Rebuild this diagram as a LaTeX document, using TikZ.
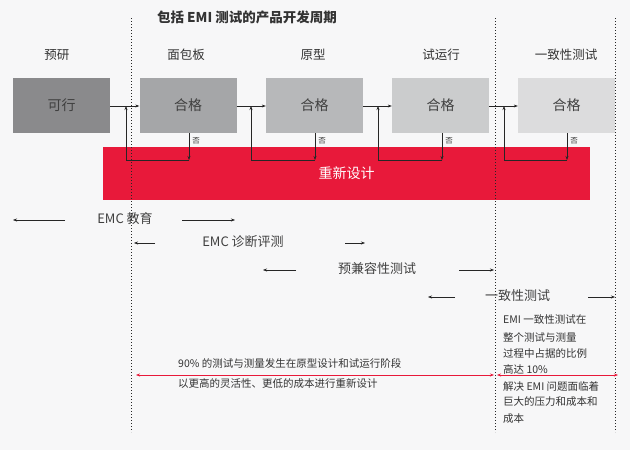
\documentclass[tikz,border=0pt]{standalone}
\usepackage{fontspec}
\setmainfont{Noto Sans CJK SC}
\usetikzlibrary{arrows.meta}
\definecolor{bg}{HTML}{F7F7F8}
\definecolor{redd}{HTML}{E8193A}
\definecolor{g1}{HTML}{8A8A8C}
\definecolor{g2}{HTML}{A5A6A8}
\definecolor{g3}{HTML}{B7B8BA}
\definecolor{g4}{HTML}{CBCCCD}
\definecolor{g5}{HTML}{DCDCDD}
\tikzset{
 stage/.style={minimum width=97pt,minimum height=55pt,inner sep=0,font=\fontsize{14}{16}\selectfont,text=black!75},
 arr/.style={-{Stealth[length=4pt,width=3pt]},black!85,line width=0.5pt},
 lbl/.style={font=\fontsize{13}{15}\selectfont,text=black!75,inner sep=0},
 sm/.style={font=\fontsize{10.5}{12}\selectfont,text=black!80,inner sep=0,anchor=west},
 vd/.style={black!85,line width=1pt,dotted},
 ph/.style={font=\fontsize{12.5}{14}\selectfont,text=black!80},
}
\begin{document}
\begin{tikzpicture}[x=1pt,y=-1pt]
\fill[bg] (0,0) rectangle (630,450);
\useasboundingbox (0,0) rectangle (630,450);
\node[font=\bfseries\fontsize{13.5}{15}\selectfont,text=black!80] (title) at (247,17) {包括 EMI 测试的产品开发周期};
\node[ph] (p0) at (57,55) {预研};
\node[ph] (p1) at (186,55) {面包板};
\node[ph] (p2) at (313,55) {原型};
\node[ph] (p3) at (441,55) {试运行};
\node[ph] (p4) at (566,55) {一致性测试};
\node[fill=redd,minimum width=487pt,minimum height=53pt,text=white,font=\fontsize{14}{16}\selectfont] (re) at (346.5,173.5) {重新设计};
\node[stage,fill=g1] (b0) at (61.5,105.5) {可行};
\node[stage,fill=g2] (b1) at (188,105.5) {合格};
\node[stage,fill=g3] (b2) at (314.5,105.5) {合格};
\node[stage,fill=g4] (b3) at (440.5,105.5) {合格};
\node[stage,fill=g5] (b4) at (566.5,105.5) {合格};
\foreach \a/\b in {b0/b1,b1/b2,b2/b3,b3/b4}{\draw[arr] (\a.east|-0,106) -- (\b.west|-0,106);}
\foreach \b/\d/\l in {b1/189/126,b2/315/251,b3/442/378,b4/567/504}{
  \coordinate (d\b) at (\d,160);
  \coordinate (l\b) at (\l,160);
  \coordinate (u\b) at (\l,106);
  \draw[arr] (\b.south-|d\b) -- (d\b);
  \draw[arr] (d\b) -- (l\b) -- (u\b);
  \node[font=\fontsize{7.5}{8}\selectfont,text=black!80] (n\b) at (\d+7,141) {否};
}
\foreach \x in {131,495,615}{\draw[vd] (\x,18) -- (\x,432);}
% rows
\node[lbl] (t1) at (125,219) {EMC 教育};
\coordinate (a1) at (65,220); \coordinate (a1e) at (13,220);
\coordinate (a2) at (182,220); \coordinate (a2e) at (235,220);
\draw[arr] (a1) -- (a1e); \draw[arr] (a2) -- (a2e);
\node[lbl] (t2) at (243,242) {EMC 诊断评测};
\coordinate (c1) at (155,243); \coordinate (c1e) at (134,243);
\coordinate (c2) at (345,243); \coordinate (c2e) at (365,243);
\draw[arr] (c1) -- (c1e); \draw[arr] (c2) -- (c2e);
\node[lbl] (t3) at (377,269) {预兼容性测试};
\coordinate (e1) at (296,270); \coordinate (e1e) at (263,270);
\coordinate (e2) at (459,270); \coordinate (e2e) at (494,270);
\draw[arr] (e1) -- (e1e); \draw[arr] (e2) -- (e2e);
\node[lbl,anchor=west] (t4) at (485,296) {一致性测试};
\coordinate (f1) at (455,297); \coordinate (f1e) at (428,297);
\coordinate (f2) at (588,297); \coordinate (f2e) at (615,297);
\draw[arr] (f1) -- (f1e); \draw[arr] (f2) -- (f2e);
\node[sm] (r1) at (503,320) {EMI 一致性测试在};
\node[sm] (r2) at (503,337) {整个测试与测量};
\node[sm] (r3) at (503,353) {过程中占据的比例};
\node[sm] (r4) at (503,369) {高达 10\%};
\coordinate (g1) at (136,375); \coordinate (g2) at (494,375);
\coordinate (h1) at (497,375); \coordinate (h2) at (618,375);
\draw[redd,line width=0.6pt,{Stealth[length=4pt,width=3pt]}-{Stealth[length=4pt,width=3pt]}] (g1) -- (g2);
\draw[redd,line width=0.6pt,{Stealth[length=4pt,width=3pt]}-{Stealth[length=4pt,width=3pt]}] (h1) -- (h2);
\node[sm] (m1) at (178,363) {90\% 的测试与测量发生在原型设计和试运行阶段};
\node[sm] (m2) at (178,384) {以更高的灵活性、更低的成本进行重新设计};
\node[sm] (s1) at (503,386) {解决 EMI 问题面临着};
\node[sm] (s2) at (503,402) {巨大的压力和成本和};
\node[sm] (s3) at (503,419) {成本};
\end{tikzpicture}
\end{document}
